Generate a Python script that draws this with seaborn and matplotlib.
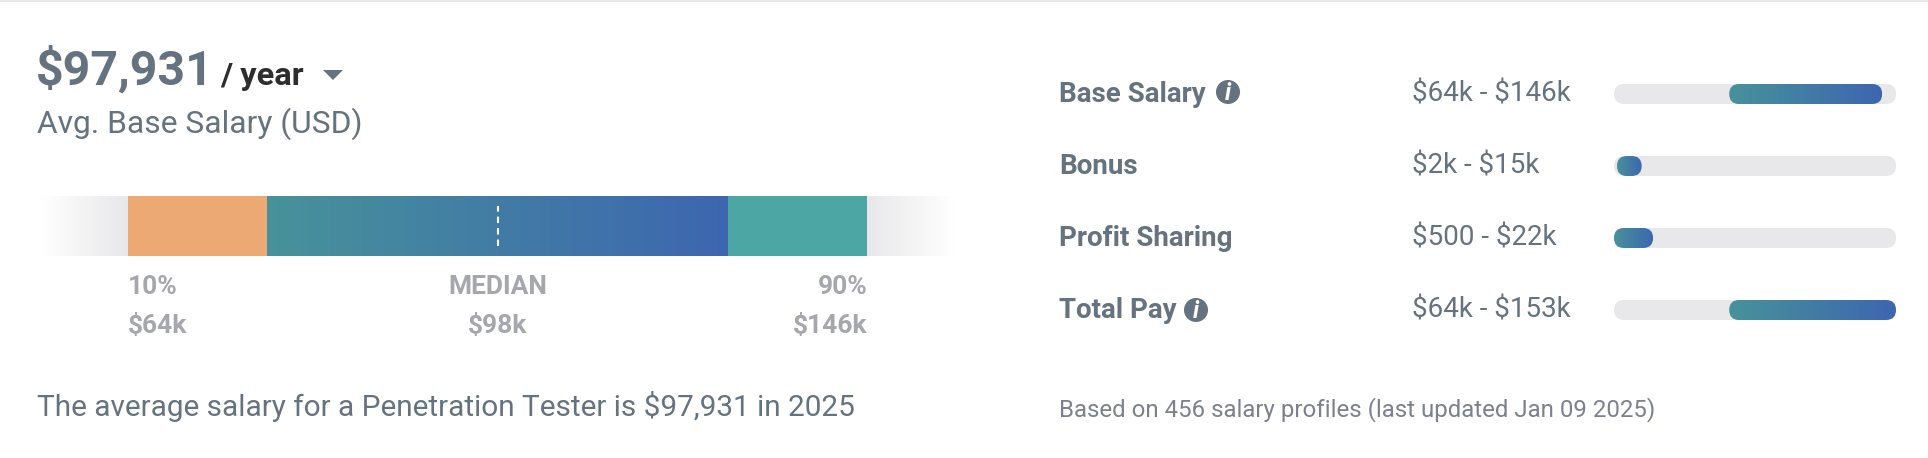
import numpy as np
import matplotlib
matplotlib.use("Agg")
import matplotlib.pyplot as plt
from matplotlib.colors import LinearSegmentedColormap
from matplotlib.patches import FancyBboxPatch, Circle, Polygon, Rectangle
import pandas as pd
import seaborn as sns

# bar principal (partes em % da largura)
segment_names = ["fade_low", "low", "middle", "high", "fade_high"]
segment_shares = [9.6, 15.2, 50.4, 15.2, 9.6]
percent_labels = ["10%", "MEDIAN", "90%"]
percent_values = [r"\$64k", r"\$98k", r"\$146k"]

# barras da direita (em milhares de USD)
pay_rows = ["Base Salary", "Bonus", "Profit Sharing", "Total Pay"]
pay_ranges = [r"\$64k - \$146k", r"\$2k - \$15k", r"\$500 - \$22k", r"\$64k - \$153k"]
pay_low = [62.5, 1.6, 0, 62.5]
pay_high = [145.5, 15, 21.2, 153]
track_max = [153, 153, 153, 153]

SLATE = "#65727f"
GREY_TEXT = "#a6a6af"
TRACK = "#e8e8ea"
W, H = 1928, 458

sns.set_theme(style="white")
plt.rcParams["font.family"] = ["Roboto", "DejaVu Sans"]

fig = plt.figure(figsize=(W / 100, H / 100), dpi=100)
gradient = LinearSegmentedColormap.from_list("pay", ["#47929a", "#3d66b0"])
ramp = np.linspace(0, 1, 256).reshape(1, -1)


def px_text(x, y, s, size, color, weight="normal", ha="left"):
    return fig.text(x / W, 1 - y / H, s, fontsize=size, color=color, fontweight=weight,
                    ha=ha, va="baseline")


def px_axes(x0, y0, x1, y1):
    ax = fig.add_axes([x0 / W, 1 - y1 / H, (x1 - x0) / W, (y1 - y0) / H])
    ax.set_axis_off()
    return ax


fig.add_artist(Rectangle((0, 1 - 2 / H), 1, 2 / H, transform=fig.transFigure, color="#e8e8e8", lw=0))

# cabeçalho
px_text(36, 85, r"\$97,931", 34.8, SLATE, "bold")
px_text(220, 85, "/ year", 23.4, "#2e2e2e", "bold")
fig.add_artist(Polygon([[323 / W, 1 - 70 / H], [343 / W, 1 - 70 / H], [333 / W, 1 - 80 / H]],
                       transform=fig.transFigure, color=SLATE, lw=0))
px_text(37, 133, "Avg. Base Salary (USD)", 22.9, SLATE)

# barra principal
ax = px_axes(40, 196, 955, 256)
edges = np.cumsum([0] + segment_shares)
colors = ["none", "#eca973", "none", "#4ca6a4", "none"]
for name, left, share, c in zip(segment_names, edges[:-1], segment_shares, colors):
    ax.barh(0, share, left=left, height=1, color=c, lw=0)
fade = LinearSegmentedColormap.from_list("fade", ["#ffffff", TRACK])
ax.imshow(ramp, extent=(edges[0], edges[1], -0.5, 0.5), cmap=fade, aspect="auto")
ax.imshow(ramp[:, ::-1], extent=(edges[4], edges[5], -0.5, 0.5), cmap=fade, aspect="auto")
ax.imshow(ramp, extent=(edges[2], edges[3], -0.5, 0.5), cmap=gradient, aspect="auto")
ax.set_xlim(0, 100)
ax.set_ylim(-0.5, 0.5)
ax.plot([50.06, 50.06], [-0.33, 0.33], color="white", lw=1.5, ls=(0, (3.1, 2.4)))

label_x = [edges[1] - 0.05, 50, edges[4] + 0.05]
aligns = ["left", "center", "right"]
for x, pct, val, ha in zip(label_x, percent_labels, percent_values, aligns):
    px = 40 + x * 9.15
    px_text(px, 294, pct, 19, GREY_TEXT, "bold", ha)
    px_text(px, 333, val, 19, GREY_TEXT, "bold", ha)

px_text(37, 416, "The average salary for a Penetration Tester is \\$97,931 in 2025", 21.4, SLATE)

# barras da direita
ax2 = px_axes(1614, 58, 1896, 346)
df = pd.DataFrame({"row": pay_rows, "track": track_max})
sns.barplot(data=df, x="track", y="row", color=TRACK, width=20 / 72, saturation=1, ax=ax2)
ax2.set_xlim(0, 153)
ax2.set_ylim(3.5, -0.5)
ax2.set_axis_off()
fills = ax2.barh(pay_rows, np.array(pay_high) - np.array(pay_low), left=pay_low, height=20 / 72)

x_px = 282 / 153
aspect = x_px / 72
r = 10 / x_px


def rounded(bar, **kw):
    box = FancyBboxPatch((bar.get_x(), bar.get_y()), bar.get_width(), bar.get_height(),
                         boxstyle=f"round,pad=0,rounding_size={r}", mutation_aspect=aspect, lw=0, **kw)
    ax2.add_patch(box)
    bar.set_visible(False)
    return box


for bar in list(ax2.patches[:4]):
    rounded(bar, facecolor=TRACK)
for bar in fills:
    box = rounded(bar, facecolor="none")
    im = ax2.imshow(ramp, extent=(bar.get_x(), bar.get_x() + bar.get_width(),
                                  bar.get_y() + bar.get_height(), bar.get_y()),
                    cmap=gradient, aspect="auto", zorder=3)
    im.set_clip_path(box)
ax2.set_xlim(0, 153)
ax2.set_ylim(3.5, -0.5)

for i, (row, rng) in enumerate(zip(pay_rows, pay_ranges)):
    px_text(1059, 102 + 72 * i, row, 20, SLATE, "bold")
    px_text(1412, 102 + 72 * i, rng, 20, SLATE)

# ícones de informação
for cx, cy in [(1228, 92), (1196, 310)]:
    fig.add_artist(Circle((cx, H - cy), 12, transform=None, color=SLATE, lw=0))
    fig.text(cx / W, 1 - (cy + 8) / H, "i", fontsize=17, color="white", fontweight="bold",
             fontstyle="italic", ha="center", va="baseline")

px_text(1059, 416, "Based on 456 salary profiles (last updated Jan 09 2025)", 17.3, "#7d808e")

fig.savefig("out.png", dpi=100)
